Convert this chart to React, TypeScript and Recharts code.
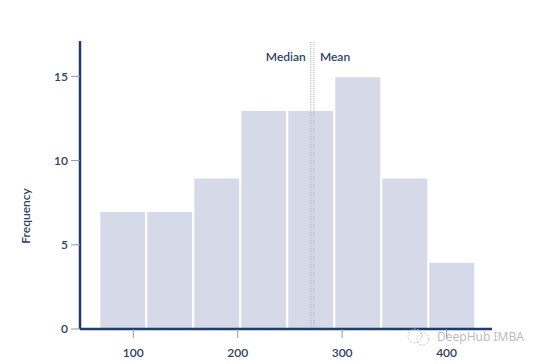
import React from "react";
import { ComposedChart, XAxis, YAxis, ReferenceArea, ReferenceLine } from "recharts";

// histogram bins (edges) and counts
const binEdges = [67.5, 112.5, 157.5, 202.5, 247.5, 292.5, 337.5, 382.5, 427.5];
const counts = [7, 7, 9, 13, 13, 15, 9, 4];
const xTicks = [100, 200, 300, 400];
const yTicks = [0, 5, 10, 15];
const MEDIAN = 270;
const MEAN = 273;

const NAVY = "#1f3c6a";
const TEXT = "#2b3f66";
const BAR = "#d5d9e8";
const FONT = "Lato, 'Noto Sans', sans-serif";

const bins = counts.map((count, i) => ({
  x: (binEdges[i] + binEdges[i + 1]) / 2,
  start: binEdges[i],
  end: binEdges[i + 1],
  count,
}));

function LineLabel({ viewBox, text, side }: any) {
  if (!viewBox) return null;
  const x = side === "left" ? viewBox.x - 5 : viewBox.x + 6;
  return (
    <text
      x={x}
      y={viewBox.y + 20}
      textAnchor={side === "left" ? "end" : "start"}
      fontSize={12}
      fontWeight={600}
      fill={TEXT}
      fontFamily={FONT}
    >
      {text}
    </text>
  );
}

function YTitle({ viewBox }: any) {
  if (!viewBox) return null;
  const cx = 25;
  const cy = viewBox.y + viewBox.height / 2 + 31;
  return (
    <text
      x={cx}
      y={cy}
      transform={`rotate(-90 ${cx} ${cy})`}
      textAnchor="middle"
      dominantBaseline="central"
      fontSize={12}
      fontWeight={600}
      fill={TEXT}
      fontFamily={FONT}
    >
      Frequency
    </text>
  );
}

export default function App() {
  return (
    <div style={{ position: "absolute", left: 0, top: 0, width: 544, height: 364, background: "#fff" }}>
      <ComposedChart
        width={544}
        height={364}
        data={bins}
        margin={{ top: 41, right: 52, bottom: 5, left: 0 }}
      >
        <XAxis
          type="number"
          dataKey="x"
          domain={[49, 443.5]}
          ticks={xTicks}
          allowDataOverflow
          height={30}
          axisLine={{ stroke: NAVY, strokeWidth: 2.5 }}
          tickLine={{ stroke: "#8d97ad" }}
          tickSize={9}
          tickMargin={10}
          tick={{ fontSize: 12, fontWeight: 600, fill: TEXT, fontFamily: FONT }}
        />
        <YAxis
          type="number"
          domain={[0, 17.1]}
          ticks={yTicks}
          allowDataOverflow
          width={80}
          axisLine={{ stroke: NAVY, strokeWidth: 2.5 }}
          tickLine={{ stroke: "#8d97ad" }}
          tickSize={9}
          tickMargin={3}
          tick={{ fontSize: 12, fontWeight: 600, fill: TEXT, fontFamily: FONT }}
          label={<YTitle />}
        />
        {bins.map((b, i) => (
          <ReferenceArea
            key={i}
            x1={b.start}
            x2={b.end}
            y1={0}
            y2={b.count}
            fill={BAR}
            fillOpacity={1}
            stroke="#ffffff"
            strokeWidth={2}
            ifOverflow="visible"
          />
        ))}
        <ReferenceLine
          x={MEDIAN}
          stroke="#a9afbd"
          strokeDasharray="1 1"
          label={<LineLabel text="Median" side="left" />}
        />
        <ReferenceLine
          x={MEAN}
          stroke="#a9afbd"
          strokeDasharray="1 1"
          label={<LineLabel text="Mean" side="right" />}
        />
      </ComposedChart>
      {/* watermark */}
      <svg style={{ position: "absolute", left: 405, top: 327 }} width={28} height={20}>
        <circle cx={10} cy={9} r={7} fill="none" stroke="#c4c4c4" strokeWidth={1} strokeDasharray="2 1.5" />
        <circle cx={18} cy={12} r={6} fill="none" stroke="#c4c4c4" strokeWidth={1} strokeDasharray="2 1.5" />
      </svg>
      <div
        style={{
          position: "absolute",
          left: 437,
          top: 331,
          fontSize: 12,
          lineHeight: "12px",
          color: "#bdbdbd",
          fontFamily: "'Noto Sans', sans-serif",
        }}
      >
        DeepHub IMBA
      </div>
    </div>
  );
}
